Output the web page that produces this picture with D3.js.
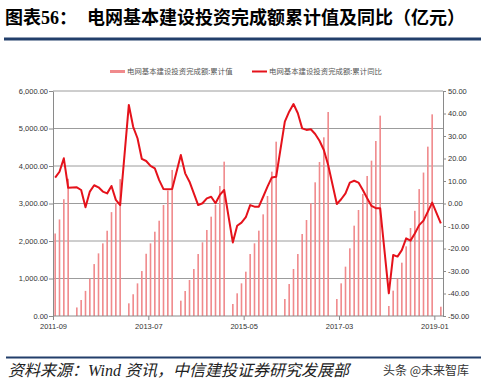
<!DOCTYPE html>
<html>
<head>
<meta charset="utf-8">
<script src="https://cdn.jsdelivr.net/npm/d3@7"></script>
<style>
  body { margin: 0; background: #fff; }
  svg { display: block; }
</style>
</head>
<body>
<div id="chart"></div>
<script>
WIDTH = 481;
HEIGHT = 389;
TICK_FONT = 7.5;
BAR_COLOR = '#f08a8c';
LINE_COLOR = '#e5121b';
NAVY = '#223f6b';

// categories: one entry per month, Jan has no data
const MONTHS = [
    '2011-09','2011-10','2011-11','2011-12',
    '2012-01','2012-02','2012-03','2012-04','2012-05','2012-06','2012-07','2012-08','2012-09','2012-10','2012-11','2012-12',
    '2013-01','2013-02','2013-03','2013-04','2013-05','2013-06','2013-07','2013-08','2013-09','2013-10','2013-11','2013-12',
    '2014-01','2014-02','2014-03','2014-04','2014-05','2014-06','2014-07','2014-08','2014-09','2014-10','2014-11','2014-12',
    '2015-01','2015-02','2015-03','2015-04','2015-05','2015-06','2015-07','2015-08','2015-09','2015-10','2015-11','2015-12',
    '2016-01','2016-02','2016-03','2016-04','2016-05','2016-06','2016-07','2016-08','2016-09','2016-10','2016-11','2016-12',
    '2017-01','2017-02','2017-03','2017-04','2017-05','2017-06','2017-07','2017-08','2017-09','2017-10','2017-11','2017-12',
    '2018-01','2018-02','2018-03','2018-04','2018-05','2018-06','2018-07','2018-08','2018-09','2018-10','2018-11','2018-12',
    '2019-01','2019-02'
];

// 累计值 (亿元)
const CUM_VALUES = [
    2200, 2575, 3115, 3660,
    null, 228, 427, 670, 995, 1385, 1670, 1937, 2274, 2770, 3015, 3650,
    null, 338, 580, 870, 1199, 1660, 1937, 2248, 2541, 2960, 3343, 3894,
    null, 409, 667, 960, 1253, 1653, 1965, 2294, 2649, 2960, 3467, 4116,
    null, 320, 605, 871, 1182, 1653, 1938, 2276, 2711, 3200, 3849, 4649,
    null, 453, 853, 1253, 1653, 2187, 2560, 3005, 3565, 4107, 4765, 5440,
    null, 453, 871, 1316, 1805, 2409, 2827, 3254, 3734, 4143, 4667, 5343,
    null, 267, 676, 1004, 1422, 1858, 2347, 2805, 3385, 3825, 4516, 5378,
    null, 248
];

// 累计同比 (%)
const YOY_VALUES = [
    11.5, 14.1, 20.1, 7.0,
    null, 7.2, 6.0, -1.7, 5.3, 8.1, 7.2, 5.3, 4.5, 7.8, 1.6, -0.7,
    null, 43.8, 34.1, 29.0, 19.8, 18.9, 16.7, 15.6, 10.4, 6.4, 6.3, 6.4,
    null, 21.6, 13.4, 9.7, 4.5, -0.7, 0.1, 2.3, 3.0, 0.1, 3.8, 6.0,
    null, -17.3, -9.9, -8.5, -6.1, -0.7, -1.4, -1.4, 3.0, 7.5, 11.6, 11.9,
    null, 36.4, 40.8, 44.2, 40.1, 33.4, 32.7, 33.0, 30.9, 27.9, 23.8, 17.1,
    null, -0.2, 1.9, 4.5, 9.3, 10.1, 9.3, 6.0, 2.3, -1.1, -2.1, -2.1,
    null, -39.9, -22.9, -23.6, -20.7, -15.5, -16.5, -13.3, -9.6, -7.6, -3.6, 0.4,
    null, -8.8
];

const X_TICKS = ['2011-09', '2013-07', '2015-05', '2017-03', '2019-01'];
const LEFT_TICKS = [0, 1000, 2000, 3000, 4000, 5000, 6000];
const RIGHT_TICKS = [-50, -40, -30, -20, -10, 0, 10, 20, 30, 40, 50];
const SERIES_NAMES = ['电网基本建设投资完成额:累计值', '电网基本建设投资完成额:累计同比'];

function plotChart() {
    const plot = { left: 53, right: 443, top: 91, bottom: 316 };

    const svg = d3.select('#chart')
        .append('svg')
        .attr('width', WIDTH)
        .attr('height', HEIGHT);

    svg.append('rect').attr('width', WIDTH).attr('height', HEIGHT).attr('fill', '#fff');

    // Title
    const title = svg.append('text')
        .attr('x', 5)
        .attr('y', 24)
        .style('font-family', '"Noto Sans CJK SC", sans-serif')
        .style('font-weight', 'bold')
        .style('font-size', '18px')
        .attr('fill', '#000');
    title.append('tspan').text('图表');
    title.append('tspan').text('56').style('font-family', '"Liberation Serif", serif');
    title.append('tspan').text('：');

    svg.append('text')
        .attr('x', 87)
        .attr('y', 24)
        .text('电网基本建设投资完成额累计值及同比（亿元）')
        .style('font-family', '"Noto Sans CJK SC", sans-serif')
        .style('font-weight', 'bold')
        .style('font-size', '18px')
        .attr('fill', '#000');

    svg.append('rect')
        .attr('x', 4).attr('y', 37.5)
        .attr('width', WIDTH - 4).attr('height', 3)
        .attr('fill', NAVY);

    // Scales
    const x = d3.scaleBand().domain(MONTHS).range([plot.left, plot.right]).padding(0);
    const xTick = d3.scalePoint().domain(MONTHS)
        .range([x(MONTHS[0]), x(MONTHS[MONTHS.length - 1])]);
    const yLeft = d3.scaleLinear().domain([0, 6000]).range([plot.bottom, plot.top]);
    const yRight = d3.scaleLinear().domain([-50, 50]).range([plot.bottom, plot.top]);

    // Gridlines
    svg.append('g')
        .selectAll('line')
        .data(LEFT_TICKS.filter(d => d > 0))
        .enter()
        .append('line')
        .attr('x1', plot.left)
        .attr('x2', plot.right)
        .attr('y1', d => yLeft(d))
        .attr('y2', d => yLeft(d))
        .attr('stroke', '#9c9c9c')
        .attr('stroke-width', 1);

    // Bars
    const barData = MONTHS.map((m, i) => ({ month: m, value: CUM_VALUES[i] })).filter(d => d.value != null);
    svg.append('g')
        .selectAll('rect')
        .data(barData)
        .enter()
        .append('rect')
        .attr('x', d => x(d.month) + x.bandwidth() / 2 - 0.8)
        .attr('width', 1.6)
        .attr('y', d => yLeft(d.value))
        .attr('height', d => yLeft(0) - yLeft(d.value))
        .attr('fill', BAR_COLOR);

    // Axes
    const axisStyle = g => {
        g.selectAll('path, line').attr('stroke', '#8a8a8a');
        g.selectAll('text')
            .attr('fill', '#333')
            .style('font-family', '"Liberation Sans", Arial, sans-serif')
            .style('font-size', `${TICK_FONT}px`);
    };

    svg.append('g')
        .attr('transform', `translate(${plot.left},0)`)
        .call(d3.axisLeft(yLeft).tickValues(LEFT_TICKS).tickFormat(d3.format(',.2f')).tickSize(4).tickSizeOuter(0).tickPadding(1))
        .call(axisStyle);

    svg.append('g')
        .attr('transform', `translate(${plot.right},0)`)
        .call(d3.axisRight(yRight).tickValues(RIGHT_TICKS).tickFormat(d => d.toFixed(2)).tickSize(3).tickSizeOuter(0).tickPadding(2))
        .call(axisStyle);

    const xAxis = svg.append('g')
        .attr('transform', `translate(0,${plot.bottom})`)
        .call(d3.axisBottom(xTick).tickValues(X_TICKS).tickSize(4).tickPadding(4))
        .call(axisStyle);
    xAxis.select('.domain').remove();
    xAxis.append('line')
        .attr('x1', plot.left).attr('x2', plot.right)
        .attr('stroke', '#8a8a8a');

    // YoY line
    const lineData = MONTHS.map((m, i) => ({ month: m, value: YOY_VALUES[i] })).filter(d => d.value != null);
    const lineGenerator = d3.line()
        .x(d => x(d.month) + x.bandwidth() / 2)
        .y(d => yRight(d.value));
    svg.append('path')
        .datum(lineData)
        .attr('d', lineGenerator)
        .attr('fill', 'none')
        .attr('stroke', LINE_COLOR)
        .attr('stroke-width', 2)
        .attr('stroke-linejoin', 'round');

    // Legend
    const legend = svg.append('g').attr('transform', 'translate(110, 71.5)');
    legend.append('rect')
        .attr('x', 0).attr('y', -1.5)
        .attr('width', 15).attr('height', 3)
        .attr('fill', BAR_COLOR);
    legend.append('line')
        .attr('x1', 142).attr('x2', 157)
        .attr('stroke', LINE_COLOR)
        .attr('stroke-width', 2);
    legend.selectAll('text')
        .data(SERIES_NAMES)
        .enter()
        .append('text')
        .attr('x', (d, i) => i === 0 ? 17 : 159)
        .attr('y', 2.6)
        .text(d => d)
        .attr('fill', '#555')
        .style('font-family', '"Noto Sans CJK SC", sans-serif')
        .style('font-size', '7.4px');

    // Footer
    svg.append('rect')
        .attr('x', 6).attr('y', 356.5)
        .attr('width', WIDTH - 6).attr('height', 2)
        .attr('fill', NAVY);

    svg.append('text')
        .attr('x', 8)
        .attr('y', 376)
        .text('资料来源：Wind 资讯，中信建投证券研究发展部')
        .attr('fill', '#222')
        .style('font-family', '"Liberation Serif", "Noto Sans CJK SC", serif')
        .style('font-style', 'italic')
        .style('font-size', '16px');

    svg.append('text')
        .attr('x', 383)
        .attr('y', 375)
        .text('头条 @未来智库')
        .attr('fill', '#333')
        .style('font-family', '"Noto Sans CJK SC", sans-serif')
        .style('font-size', '12px');
}

plotChart();
</script>
</body>
</html>
